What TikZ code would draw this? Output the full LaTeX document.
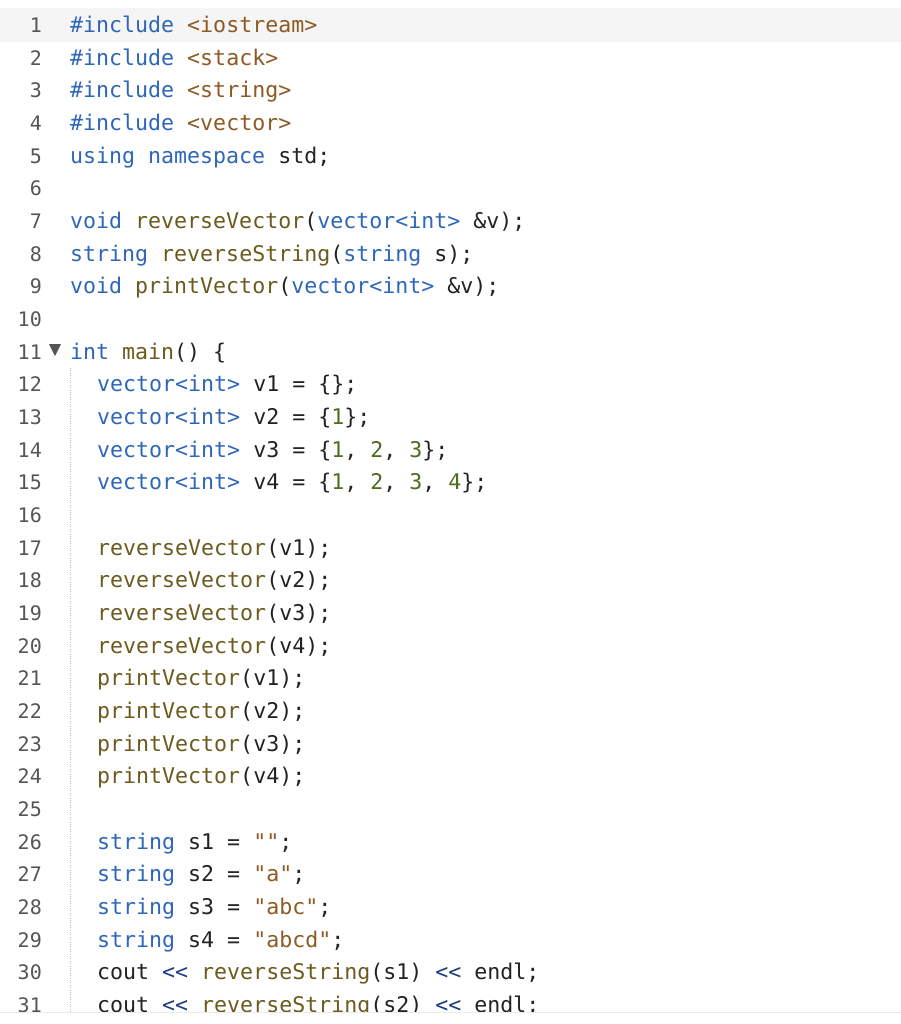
\documentclass[tikz,border=0pt]{standalone}
\usepackage{fontspec}
\setmonofont{DejaVu Sans Mono}
\definecolor{kw}{HTML}{2F67B8}
\definecolor{st}{HTML}{8E5A24}
\definecolor{fn}{HTML}{6B5B1E}
\definecolor{nm}{HTML}{4F6B1F}
\definecolor{op}{HTML}{1E3C7C}
\definecolor{tx}{HTML}{222222}
\definecolor{ln}{HTML}{555555}
\newcommand\K[1]{\textcolor{kw}{#1}}
\newcommand\Sx[1]{\textcolor{st}{#1}}
\newcommand\F[1]{\textcolor{fn}{#1}}
\newcommand\N[1]{\textcolor{nm}{#1}}
\newcommand\Op[1]{\textcolor{op}{#1}}
\begin{document}
\begin{tikzpicture}[x=1pt,y=-1pt,
  code/.style={anchor=base west,inner sep=0pt,font=\ttfamily\fontsize{21.6}{24}\selectfont,text=tx},
  lnum/.style={anchor=base east,inner sep=0pt,font=\ttfamily\fontsize{20}{24}\selectfont,text=ln}]
\useasboundingbox (0,0) rectangle (901,1024);
\fill[white] (0,0) rectangle (901,1024);
\fill[black!4] (0,8) rectangle (901,42);
\clip (0,0) rectangle (901,1012);
\draw[black!25,dotted] (70,368) -- (70,1012);
\fill[ln] (49,344) -- (61,344) -- (55,356) -- cycle;
\foreach \i in {1,...,31} {
  \pgfmathsetmacro\yy{25+32.67*(\i-1)+7.5}
  \node[lnum] (n\i) at (42,\yy) {\i};
}
\newcommand\Lc[3]{\pgfmathsetmacro\yy{25+32.67*(#1-1)+7.5}\node[code] (c#1) at (#2,\yy) {#3};}
\Lc{1}{70}{\K{\#include} \Sx{<iostream>}}
\Lc{2}{70}{\K{\#include} \Sx{<stack>}}
\Lc{3}{70}{\K{\#include} \Sx{<string>}}
\Lc{4}{70}{\K{\#include} \Sx{<vector>}}
\Lc{5}{70}{\K{using namespace} std;}
\Lc{7}{70}{\K{void} \F{reverseVector}(\K{vector<int>} \&v);}
\Lc{8}{70}{\K{string} \F{reverseString}(\K{string} s);}
\Lc{9}{70}{\K{void} \F{printVector}(\K{vector<int>} \&v);}
\Lc{11}{70}{\K{int} \F{main}() \{}
\Lc{12}{97}{\K{vector<int>} v1 = \{\};}
\Lc{13}{97}{\K{vector<int>} v2 = \{\N{1}\};}
\Lc{14}{97}{\K{vector<int>} v3 = \{\N{1}, \N{2}, \N{3}\};}
\Lc{15}{97}{\K{vector<int>} v4 = \{\N{1}, \N{2}, \N{3}, \N{4}\};}
\Lc{17}{97}{\F{reverseVector}(v1);}
\Lc{18}{97}{\F{reverseVector}(v2);}
\Lc{19}{97}{\F{reverseVector}(v3);}
\Lc{20}{97}{\F{reverseVector}(v4);}
\Lc{21}{97}{\F{printVector}(v1);}
\Lc{22}{97}{\F{printVector}(v2);}
\Lc{23}{97}{\F{printVector}(v3);}
\Lc{24}{97}{\F{printVector}(v4);}
\Lc{26}{97}{\K{string} s1 = \Sx{""};}
\Lc{27}{97}{\K{string} s2 = \Sx{"a"};}
\Lc{28}{97}{\K{string} s3 = \Sx{"abc"};}
\Lc{29}{97}{\K{string} s4 = \Sx{"abcd"};}
\Lc{30}{97}{cout \Op{<<} \F{reverseString}(s1) \Op{<<} endl;}
\Lc{31}{97}{cout \Op{<<} \F{reverseString}(s2) \Op{<<} endl;}
\fill[black!8] (0,1012) rectangle (901,1024);
\end{tikzpicture}
\end{document}
